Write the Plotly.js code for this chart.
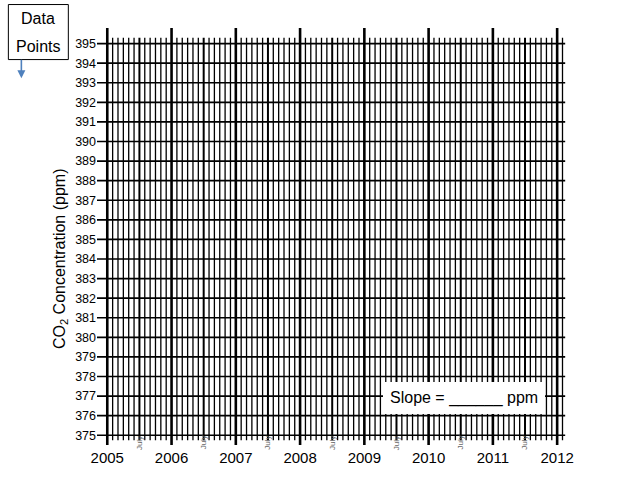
<!DOCTYPE html>
<html>
<head>
<meta charset="utf-8">
<script src="https://cdn.plot.ly/plotly-3.0.1.min.js"></script>
<style>html,body{margin:0;padding:0;background:#fff;}#chart{width:638px;height:478px;}</style>
</head>
<body>
<div id="chart"></div>
<script>
// Axis values (graph paper, no data points plotted)
var years = [2005, 2006, 2007, 2008, 2009, 2010, 2011, 2012];
var yearLabels = ['2005', '2006', '2007', '2008', '2009', '2010', '2011', '2012'];
var ppmLevels = [375, 376, 377, 378, 379, 380, 381, 382, 383, 384, 385, 386, 387, 388, 389, 390, 391, 392, 393, 394, 395];
var monthOffsets = [1, 2, 3, 4, 5, 6, 7, 8, 9, 10, 11];
var midYearLabel = 'July';
var yTitle = 'CO<sub>2</sub> Concentration (ppm)';
var slopeText = 'Slope = ______ ppm';

var FONT = 'Liberation Sans, Arial, sans-serif';
var traces = [];

// horizontal grid lines
var hx = [], hy = [];
ppmLevels.forEach(function (v) { hx.push(2004.84, 2012.125, null); hy.push(v, v, null); });
traces.push({x: hx, y: hy, mode: 'lines', line: {color: '#000', width: 1.6}, hoverinfo: 'skip', showlegend: false});

// thin monthly lines
var mx = [], my = [], jx = [], jy = [];
years.slice(0, -1).forEach(function (yr) {
  monthOffsets.forEach(function (m) {
    var xv = yr + m / 12;
    if (m === 6) { jx.push(xv, xv, null); jy.push(374.74, 395.3, null); }
    else { mx.push(xv, xv, null); my.push(374.74, 395.3, null); }
  });
});
var last = years[years.length - 1] + 1 / 12;
mx.push(last, last, null); my.push(374.74, 395.3, null);
traces.push({x: mx, y: my, mode: 'lines', line: {color: '#000', width: 1.3}, hoverinfo: 'skip', showlegend: false});
traces.push({x: jx, y: jy, mode: 'lines', line: {color: '#000', width: 2}, hoverinfo: 'skip', showlegend: false});

// year lines
var yx = [], yy = [];
years.forEach(function (yr) { yx.push(yr, yr, null); yy.push(374.5, 395.8, null); });
traces.push({x: yx, y: yy, mode: 'lines', line: {color: '#000', width: 2.6}, hoverinfo: 'skip', showlegend: false});

var annotations = [];
years.slice(0, -1).forEach(function (yr) {
  annotations.push({x: yr + 0.5, y: 374.62, xref: 'x', yref: 'y', text: midYearLabel, showarrow: false,
    xanchor: 'center', yanchor: 'middle',
    textangle: -90, font: {family: FONT, size: 8, color: '#666'}});
});
annotations.push({x: 2010.55, y: 376.9, xref: 'x', yref: 'y', text: slopeText, showarrow: false,
  xanchor: 'center', yanchor: 'middle',
  bgcolor: '#fff', bordercolor: '#fff', borderpad: 6, font: {family: FONT, size: 16, color: '#000'}});
annotations.push({x: -0.0776, y: 0.445, xref: 'paper', yref: 'paper', text: yTitle, showarrow: false,
  xanchor: 'center', yanchor: 'middle',
  textangle: -90, font: {family: FONT, size: 16, color: '#000'}});
annotations.push({x: -0.124, y: 1.0129, xref: 'paper', yref: 'paper', text: 'Data', showarrow: false,
  xanchor: 'center', yanchor: 'middle',
  font: {family: FONT, size: 16, color: '#000'}});
annotations.push({x: -0.124, y: 0.9466, xref: 'paper', yref: 'paper', text: 'Points', showarrow: false,
  xanchor: 'center', yanchor: 'middle',
  font: {family: FONT, size: 16, color: '#000'}});
annotations.push({x: -0.1599, y: 0.872, xref: 'paper', yref: 'paper', text: '', showarrow: true,
  ax: 0, ay: -20, arrowhead: 2, arrowsize: 1, arrowwidth: 1.6, arrowcolor: '#4f81bd'});

var layout = {
  width: 638, height: 478,
  margin: {l: 96.7, r: 68.1, t: 24.45, b: 31.25},
  paper_bgcolor: '#fff', plot_bgcolor: '#fff',
  font: {family: FONT, color: '#000'},
  showlegend: false,
  xaxis: {range: [2004.84, 2012.2], tickvals: years, ticktext: yearLabels, showgrid: false, zeroline: false,
    showline: false, ticks: '', tickfont: {family: FONT, size: 15}, fixedrange: true},
  yaxis: {range: [374.4, 396], tickvals: ppmLevels, ticktext: ppmLevels.map(String), showgrid: false, zeroline: false,
    showline: false, ticks: '', tickfont: {family: FONT, size: 12.5}, fixedrange: true},
  shapes: [{type: 'rect', xref: 'paper', yref: 'paper', x0: -0.1874, x1: -0.0606, y0: 0.9159, y1: 1.046,
    line: {color: '#000', width: 1}, fillcolor: 'rgba(0,0,0,0)'}],
  annotations: annotations
};

Plotly.newPlot('chart', traces, layout, {displayModeBar: false, staticPlot: true});
</script>
</body>
</html>
